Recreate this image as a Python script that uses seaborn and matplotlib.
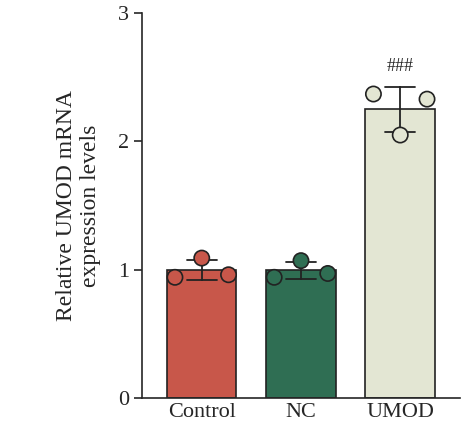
import numpy as np
import pandas as pd
import matplotlib
matplotlib.use("Agg")
import matplotlib.pyplot as plt
import seaborn as sns

groups = ["Control", "NC", "UMOD"]
control_vals = [0.94, 1.09, 0.96]
nc_vals = [0.94, 1.07, 0.97]
umod_vals = [2.37, 2.05, 2.33]
colors = ["#C8574A", "#2F6E53", "#E3E6D3"]

df = pd.DataFrame({
    "group": ["Control"] * 3 + ["NC"] * 3 + ["UMOD"] * 3,
    "value": control_vals + nc_vals + umod_vals,
})

sns.set_style("ticks")
plt.rcParams["font.family"] = ["Liberation Serif", "DejaVu Serif"]

fig, ax = plt.subplots(figsize=(4.74, 4.42), dpi=100)
sns.barplot(data=df, x="group", y="value", order=groups, palette=colors,
            hue="group", legend=False, errorbar="sd", capsize=0.3, saturation=1,
            err_kws={"color": "#222222", "linewidth": 1.3},
            edgecolor="#222222", linewidth=1.2, width=0.7, ax=ax)
sns.stripplot(data=df, x="group", y="value", order=groups, palette=colors,
              hue="group", legend=False, jitter=False, dodge=False, size=11,
              edgecolor="#222222", linewidth=1.2, ax=ax, zorder=5)
# spread points horizontally like the reference
for coll in ax.collections:
    offs = coll.get_offsets()
    if len(offs) == 3:
        offs[:, 0] = offs[:, 0] + np.array([-0.27, 0.0, 0.27])
        coll.set_offsets(offs)

ax.text(2, 2.52, "###", ha="center", va="bottom", fontsize=13)
ax.set_ylim(0, 3)
ax.set_yticks([0, 1, 2, 3])
ax.set_xlim(-0.6, 2.6)
ax.set_xlabel("")
ax.set_ylabel("Relative UMOD mRNA\nexpression levels", fontsize=17, labelpad=12)
ax.tick_params(axis="both", labelsize=16, width=1.2, length=6)
ax.tick_params(axis="x", length=0)
for s in ["left", "bottom"]:
    ax.spines[s].set_linewidth(1.2)
sns.despine(ax=ax)
fig.subplots_adjust(left=0.3, right=0.97, top=0.97, bottom=0.1)
fig.savefig("out.png", dpi=100)
